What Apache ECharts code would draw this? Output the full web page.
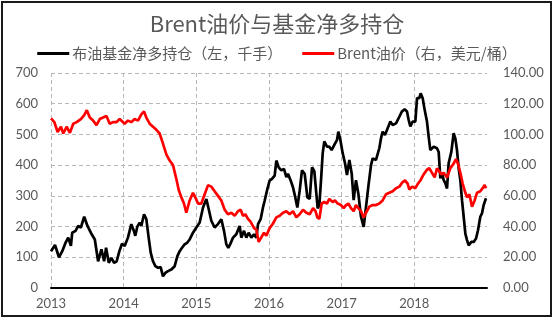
<!DOCTYPE html>
<html><head><meta charset="utf-8">
<script src="https://cdn.jsdelivr.net/npm/echarts@6/dist/echarts.min.js"></script>
<style>html,body{margin:0;padding:0;background:#fff}#c{width:554px;height:319px}</style>
</head><body><div id="c"></div>
<script>
const titleText = 'Brent油价与基金净多持仓';
const seriesNames = ['布油基金净多持仓（左，千手）', 'Brent油价（右，美元/桶）'];
const yearTicks = [2013, 2014, 2015, 2016, 2017, 2018];

// [decimal year, thousand lots]
const netLong = [
[2013.000,120],[2013.055,140],[2013.110,100],[2013.155,120],[2013.201,148],[2013.237,164],[2013.274,137],[2013.292,180],
[2013.338,186],[2013.374,202],[2013.411,197],[2013.457,232],[2013.502,202],[2013.548,180],[2013.603,158],[2013.648,87],
[2013.694,126],[2013.731,87],[2013.758,131],[2013.795,82],[2013.831,98],[2013.868,82],[2013.904,87],[2013.941,120],
[2013.977,144],[2014.014,137],[2014.059,164],[2014.105,208],[2014.142,185],[2014.160,170],[2014.188,200],[2014.220,213],
[2014.243,202],[2014.280,240],[2014.312,224],[2014.344,164],[2014.372,115],[2014.404,87],[2014.436,71],[2014.472,66],
[2014.509,68],[2014.541,38],[2014.573,49],[2014.610,55],[2014.656,60],[2014.702,71],[2014.739,104],[2014.771,120],
[2014.803,131],[2014.839,142],[2014.876,148],[2014.908,158],[2014.954,180],[2015.000,197],[2015.046,213],[2015.092,262],
[2015.138,290],[2015.170,257],[2015.206,219],[2015.252,197],[2015.298,208],[2015.344,224],[2015.381,186],[2015.413,142],
[2015.440,131],[2015.465,142],[2015.505,164],[2015.550,175],[2015.596,202],[2015.619,164],[2015.656,186],[2015.688,164],
[2015.720,180],[2015.757,164],[2015.794,175],[2015.826,164],[2015.849,208],[2015.885,224],[2015.917,262],[2015.940,284],
[2015.977,322],[2016.009,350],[2016.041,355],[2016.078,366],[2016.101,415],[2016.133,393],[2016.170,383],[2016.206,388],
[2016.239,361],[2016.261,372],[2016.298,350],[2016.330,328],[2016.362,295],[2016.390,262],[2016.422,317],[2016.454,383],
[2016.491,372],[2016.528,295],[2016.560,290],[2016.592,393],[2016.624,380],[2016.647,319],[2016.670,259],[2016.693,270],
[2016.716,351],[2016.739,439],[2016.761,477],[2016.798,460],[2016.830,460],[2016.862,449],[2016.899,466],[2016.936,482],
[2016.954,509],[2016.982,482],[2017.014,439],[2017.046,406],[2017.073,368],[2017.106,417],[2017.138,373],[2017.165,286],
[2017.197,351],[2017.229,308],[2017.266,232],[2017.303,199],[2017.335,264],[2017.367,330],[2017.404,400],[2017.427,422],
[2017.472,417],[2017.518,455],[2017.541,487],[2017.564,509],[2017.596,498],[2017.633,520],[2017.670,542],[2017.702,531],
[2017.748,536],[2017.790,556],[2017.830,575],[2017.867,582],[2017.899,575],[2017.922,547],[2017.945,526],[2017.977,542],
[2018.014,542],[2018.037,618],[2018.069,618],[2018.087,634],[2018.115,618],[2018.142,580],[2018.174,542],[2018.197,493],
[2018.220,449],[2018.243,443],[2018.266,460],[2018.312,455],[2018.335,443],[2018.358,357],[2018.381,373],[2018.404,351],
[2018.427,341],[2018.450,324],[2018.472,406],[2018.509,443],[2018.541,504],[2018.564,487],[2018.587,449],[2018.610,390],
[2018.633,351],[2018.656,286],[2018.679,232],[2018.702,177],[2018.725,156],[2018.748,139],[2018.784,150],[2018.817,150],
[2018.849,161],[2018.876,188],[2018.908,232],[2018.931,243],[2018.954,270],[2018.986,292]
];

// [decimal year, USD/bbl]
const brent = [
[2013.000,110.4],[2013.046,108],[2013.091,101.6],[2013.137,105],[2013.169,100.6],[2013.215,105],[2013.260,101],[2013.306,107],
[2013.352,108],[2013.411,110],[2013.457,112.6],[2013.493,115.8],[2013.534,111],[2013.580,109],[2013.626,106],[2013.671,110],
[2013.717,111],[2013.763,112],[2013.808,107],[2013.854,108],[2013.900,108],[2013.945,110],[2014.014,107],[2014.059,109],
[2014.105,108],[2014.151,110],[2014.197,109],[2014.243,113],[2014.280,115],[2014.312,111],[2014.358,107],[2014.404,105],
[2014.450,103],[2014.495,100.6],[2014.541,94],[2014.587,87],[2014.633,83],[2014.679,80],[2014.725,71],[2014.757,64],
[2014.794,59],[2014.830,55],[2014.862,49],[2014.908,57],[2014.954,62],[2014.986,59],[2015.023,55],[2015.069,55],
[2015.115,61],[2015.161,67],[2015.206,66],[2015.252,63],[2015.298,60],[2015.344,57],[2015.390,51],[2015.436,48],
[2015.482,49],[2015.528,47],[2015.573,50],[2015.610,51],[2015.642,47],[2015.674,48],[2015.711,45],[2015.748,43],
[2015.794,39],[2015.826,38],[2015.858,30],[2015.894,33],[2015.931,36],[2015.963,34],[2016.009,39],[2016.055,42],
[2016.101,46],[2016.147,47],[2016.193,49],[2016.239,50],[2016.284,48],[2016.330,50],[2016.376,46],[2016.422,48],
[2016.468,51],[2016.514,49],[2016.560,48],[2016.606,52],[2016.640,50],[2016.665,46],[2016.693,45],[2016.725,55],
[2016.761,56],[2016.798,55],[2016.830,58],[2016.876,56],[2016.908,57],[2016.945,55],[2016.991,54],[2017.028,52],
[2017.060,54],[2017.092,55],[2017.128,52],[2017.165,50],[2017.197,54],[2017.229,52],[2017.266,50],[2017.303,46],
[2017.335,49],[2017.381,53],[2017.427,54],[2017.472,54],[2017.518,55],[2017.564,57],[2017.610,61],[2017.656,62],
[2017.702,63],[2017.748,65],[2017.794,66],[2017.839,69],[2017.872,70],[2017.908,68],[2017.931,64],[2017.968,66],
[2018.014,65],[2018.050,68],[2018.083,70],[2018.128,74],[2018.174,77],[2018.206,78],[2018.243,75],[2018.280,72],
[2018.312,78],[2018.335,77],[2018.372,74],[2018.404,75],[2018.450,72],[2018.495,78],[2018.541,81],[2018.573,84],
[2018.601,81],[2018.633,75],[2018.665,68],[2018.702,62],[2018.725,59],[2018.757,61],[2018.794,53],[2018.830,57],
[2018.862,62],[2018.908,63],[2018.940,65],[2018.968,67],[2018.986,65]
];

const gray = '#595959';
const lbl = {color: gray, fontSize: 13, fontFamily: 'Lato, "Noto Sans", sans-serif'};
const chart = echarts.init(document.getElementById('c'), null, {renderer: 'canvas'});
chart.setOption({
  animation: false,
  backgroundColor: '#fff',
  title: {
    text: titleText, left: 'center', top: 8,
    textStyle: {color: gray, fontSize: 22, fontWeight: 'normal', fontFamily: '"Noto Sans CJK SC", sans-serif'}
  },
  legend: {
    top: 41, left: 'center', itemWidth: 32, itemHeight: 3, itemGap: 20, icon: 'rect',
    textStyle: {color: gray, fontSize: 15, fontFamily: '"Noto Sans CJK SC", sans-serif', padding: [0,0,0,-2]},
    data: seriesNames
  },
  graphic: [{
    type: 'rect', silent: true, z: 100,
    shape: {x: 2, y: 2, width: 549, height: 314},
    style: {fill: 'none', stroke: '#1a1a1a', lineWidth: 2}
  }],
  grid: {left: 51, right: 67, top: 73, bottom: 31},
  xAxis: {
    type: 'value', min: 2013, max: 2019, interval: 1,
    axisLine: {show: true, onZero: false, lineStyle: {color: '#000', width: 2}},
    axisTick: {show: false},
    axisLabel: Object.assign({margin: 9, formatter: v => yearTicks.includes(v) ? String(v) : ''}, lbl),
    splitLine: {show: true, showMaxLine: false, lineStyle: {color: '#b8b8b8', type: [4, 3], width: 1}}
  },
  yAxis: [{
    type: 'value', min: 0, max: 700, interval: 100, position: 'left',
    axisLine: {show: false}, axisTick: {show: false},
    axisLabel: Object.assign({margin: 13}, lbl),
    splitLine: {show: true, lineStyle: {color: '#b8b8b8', type: [4, 3], width: 1}}
  }, {
    type: 'value', min: 0, max: 140, interval: 20, position: 'right',
    axisLine: {show: false}, axisTick: {show: false},
    axisLabel: Object.assign({margin: 16, formatter: v => v.toFixed(2)}, lbl),
    splitLine: {show: false}
  }],
  series: [{
    name: seriesNames[0], type: 'line', yAxisIndex: 0, data: netLong,
    showSymbol: false, symbol: 'none', lineStyle: {color: '#000', width: 2.7}, itemStyle: {color: '#000'}
  }, {
    name: seriesNames[1], type: 'line', yAxisIndex: 1, data: brent,
    showSymbol: false, symbol: 'none', lineStyle: {color: '#ff0000', width: 2.7}, itemStyle: {color: '#ff0000'}
  }]
});
</script></body></html>
